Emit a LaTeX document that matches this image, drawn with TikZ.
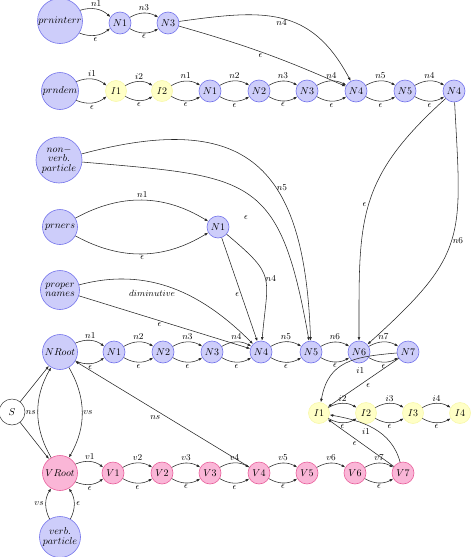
\documentclass[tikz,border=0pt]{standalone}
\usetikzlibrary{arrows.meta}
\definecolor{bfill}{RGB}{205,205,250}
\definecolor{bdraw}{RGB}{115,115,235}
\definecolor{pfill}{RGB}{250,182,215}
\definecolor{pdraw}{RGB}{232,95,155}
\definecolor{yfill}{RGB}{255,255,198}
\definecolor{ydraw}{RGB}{248,248,170}
\newcommand{\tarc}[3]{%
  \draw[arr] (#1) to[bend left=30] node[lab,above]{$#3$} (#2);
  \draw[arr] (#1) to[bend right=30] node[lab,below]{$\epsilon$} (#2);}
\begin{document}
\begin{tikzpicture}[x=1pt,y=-1pt,font=\normalsize,
  bn/.style={circle,draw=bdraw,fill=bfill,line width=0.6pt,inner sep=0pt,minimum size=22pt},
  pn/.style={circle,draw=pdraw,fill=pfill,line width=0.6pt,inner sep=0pt,minimum size=22pt},
  yn/.style={circle,draw=ydraw,fill=yfill,line width=0.6pt,inner sep=0pt,minimum size=21pt},
  wn/.style={circle,draw=black!80,fill=white,line width=0.5pt,inner sep=0pt,minimum size=26pt},
  arr/.style={draw=black!85,line width=0.55pt,-{Latex[length=3.6pt,width=2.7pt]}},
  lab/.style={inner sep=2pt,font=\small}]
\clip (0,0) rectangle (474,557);
% row 1
\node[bn,minimum size=45pt] (pi) at (60,21) {$prninterr$};
\node[bn] (a1) at (120,23) {$N1$};
\node[bn] (a3) at (168,23) {$N3$};
% row 2
\node[bn,minimum size=37pt] (pd) at (60,91) {$prndem$};
\node[yn] (bI1) at (116,91) {$I1$};
\node[yn] (bI2) at (162,91) {$I2$};
\node[bn] (b1) at (210,91) {$N1$};
\node[bn] (b2) at (259,91) {$N2$};
\node[bn] (b3) at (307,91) {$N3$};
\node[bn] (b4) at (356,91) {$N4$};
\node[bn] (b5) at (405,91) {$N5$};
\node[bn] (b6) at (454,91) {$N4$};
% left column
\node[bn,minimum size=46pt,align=center] (nv) at (59,160) {$non-$\\[-2.5pt]$verb.$\\[-2.5pt]$particle$};
\node[bn,minimum size=35pt] (pr) at (60,227) {$prners$};
\node[bn] (c1) at (218,227) {$N1$};
\node[bn,minimum size=39pt,align=center] (pn) at (60,290) {$proper$\\[-2.5pt]$names$};
% NRoot row
\node[bn,minimum size=35pt] (nr) at (60,352) {$NRoot$};
\node[bn] (d1) at (114,352) {$N1$};
\node[bn] (d2) at (163,352) {$N2$};
\node[bn] (d3) at (212,352) {$N3$};
\node[bn] (d4) at (261,352) {$N4$};
\node[bn] (d5) at (311,352) {$N5$};
\node[bn] (d6) at (359,352) {$N6$};
\node[bn] (d7) at (408,352) {$N7$};
% S and I row
\node[wn] (s) at (12,412) {$S$};
\node[yn] (i1) at (319,413) {$I1$};
\node[yn] (i2) at (366,413) {$I2$};
\node[yn] (i3) at (413,413) {$I3$};
\node[yn] (i4) at (460,413) {$I4$};
% V row
\node[pn,minimum size=35pt] (vr) at (60,473) {$VRoot$};
\node[pn] (v1) at (113,473) {$V1$};
\node[pn] (v2) at (162,473) {$V2$};
\node[pn] (v3) at (210,473) {$V3$};
\node[pn] (v4) at (259,473) {$V4$};
\node[pn] (v5) at (307,473) {$V5$};
\node[pn] (v6) at (355,473) {$V6$};
\node[pn] (v7) at (403,473) {$V7$};
\node[bn,minimum size=41pt,align=center] (vp) at (60,537) {$verb.$\\[-2.5pt]$particle$};
% chains
\tarc{pi}{a1}{n1} \tarc{a1}{a3}{n3}
\tarc{pd}{bI1}{i1} \tarc{bI1}{bI2}{i2} \tarc{bI2}{b1}{n1} \tarc{b1}{b2}{n2}
\tarc{b2}{b3}{n3} \tarc{b3}{b4}{n4} \tarc{b4}{b5}{n5} \tarc{b5}{b6}{n4}
\tarc{pr}{c1}{n1}
\tarc{nr}{d1}{n1} \tarc{d1}{d2}{n2} \tarc{d2}{d3}{n3} \tarc{d3}{d4}{n4}
\tarc{d4}{d5}{n5} \tarc{d5}{d6}{n6} \tarc{d6}{d7}{n7}
\tarc{i1}{i2}{i2} \tarc{i2}{i3}{i3} \tarc{i3}{i4}{i4}
\tarc{vr}{v1}{v1} \tarc{v1}{v2}{v2} \tarc{v2}{v3}{v3} \tarc{v3}{v4}{v4}
\tarc{v4}{v5}{v5}
\draw[arr] (v5) to[bend left=30] node[lab,above]{$v6$} (v6);
\tarc{v6}{v7}{v7}
% long edges
\draw[arr] (a3) to[out=8,in=118,looseness=1.2] node[lab,pos=0.5,below,inner sep=0.5pt]{$n4$} (b4);
\draw[arr] (a3) to[bend left=4] node[lab,pos=0.48,below]{$\epsilon$} (b4);
\draw[arr] (b6) to[out=222,in=90,looseness=1.2] node[lab,pos=0.5,left]{$\epsilon$} (d6);
\draw[arr] (b6) to[out=-87,in=42,looseness=1.35] node[lab,pos=0.5,right,inner sep=1pt]{$n6$} (d6);
\draw[arr] (nv) to[out=15,in=92,looseness=1.5] node[lab,pos=0.6,right,inner sep=1pt]{$n5$} (d5);
\draw[arr] (nv) to[out=-5,in=100,looseness=1.5] node[lab,pos=0.5,xshift=-2pt,yshift=-23pt]{$\epsilon$} (d5);
\draw[arr] (c1) to[out=-40,in=85,looseness=1.5] node[lab,pos=0.5,right,inner sep=0pt]{$n4$} (d4);
\draw[arr] (c1) -- node[lab,pos=0.55,left]{$\epsilon$} (d4);
\draw[arr] (pn) to[out=15,in=135] node[lab,pos=0.38,below=6pt]{$diminutive$} (d4);
\draw[arr] (pn) -- node[lab,pos=0.47,below]{$\epsilon$} (d4);
\draw[arr] (d7) to[out=185,in=80,looseness=1.2] node[lab,pos=0.33,below=7pt]{$i1$} (i1);
\draw[arr] (d7) -- node[lab,pos=0.43,below=2pt]{$\epsilon$} (i1);
\draw[arr] (v7) to[out=105,in=-10] node[lab,pos=0.6,below=2pt]{$i1$} (i1);
\draw[arr] (v7) -- node[lab,pos=0.59,below=1pt]{$\epsilon$} (i1);
\draw[arr] (v4) -- node[lab,pos=0.54,below=3pt]{$ns$} (nr);
\draw[arr] (nr) to[bend left=30] node[lab,right,inner sep=1pt]{$vs$} (vr);
\draw[arr] (vr) to[bend left=30] node[lab,left]{$ns$} (nr);
\draw[arr] (s) -- (nr);
\draw[arr] (s) -- (vr);
\draw[arr] (vp) to[bend left=30] node[lab,left]{$vs$} (vr);
\draw[arr] (vp) to[bend right=30] node[lab,right]{$\epsilon$} (vr);
\end{tikzpicture}
\end{document}
